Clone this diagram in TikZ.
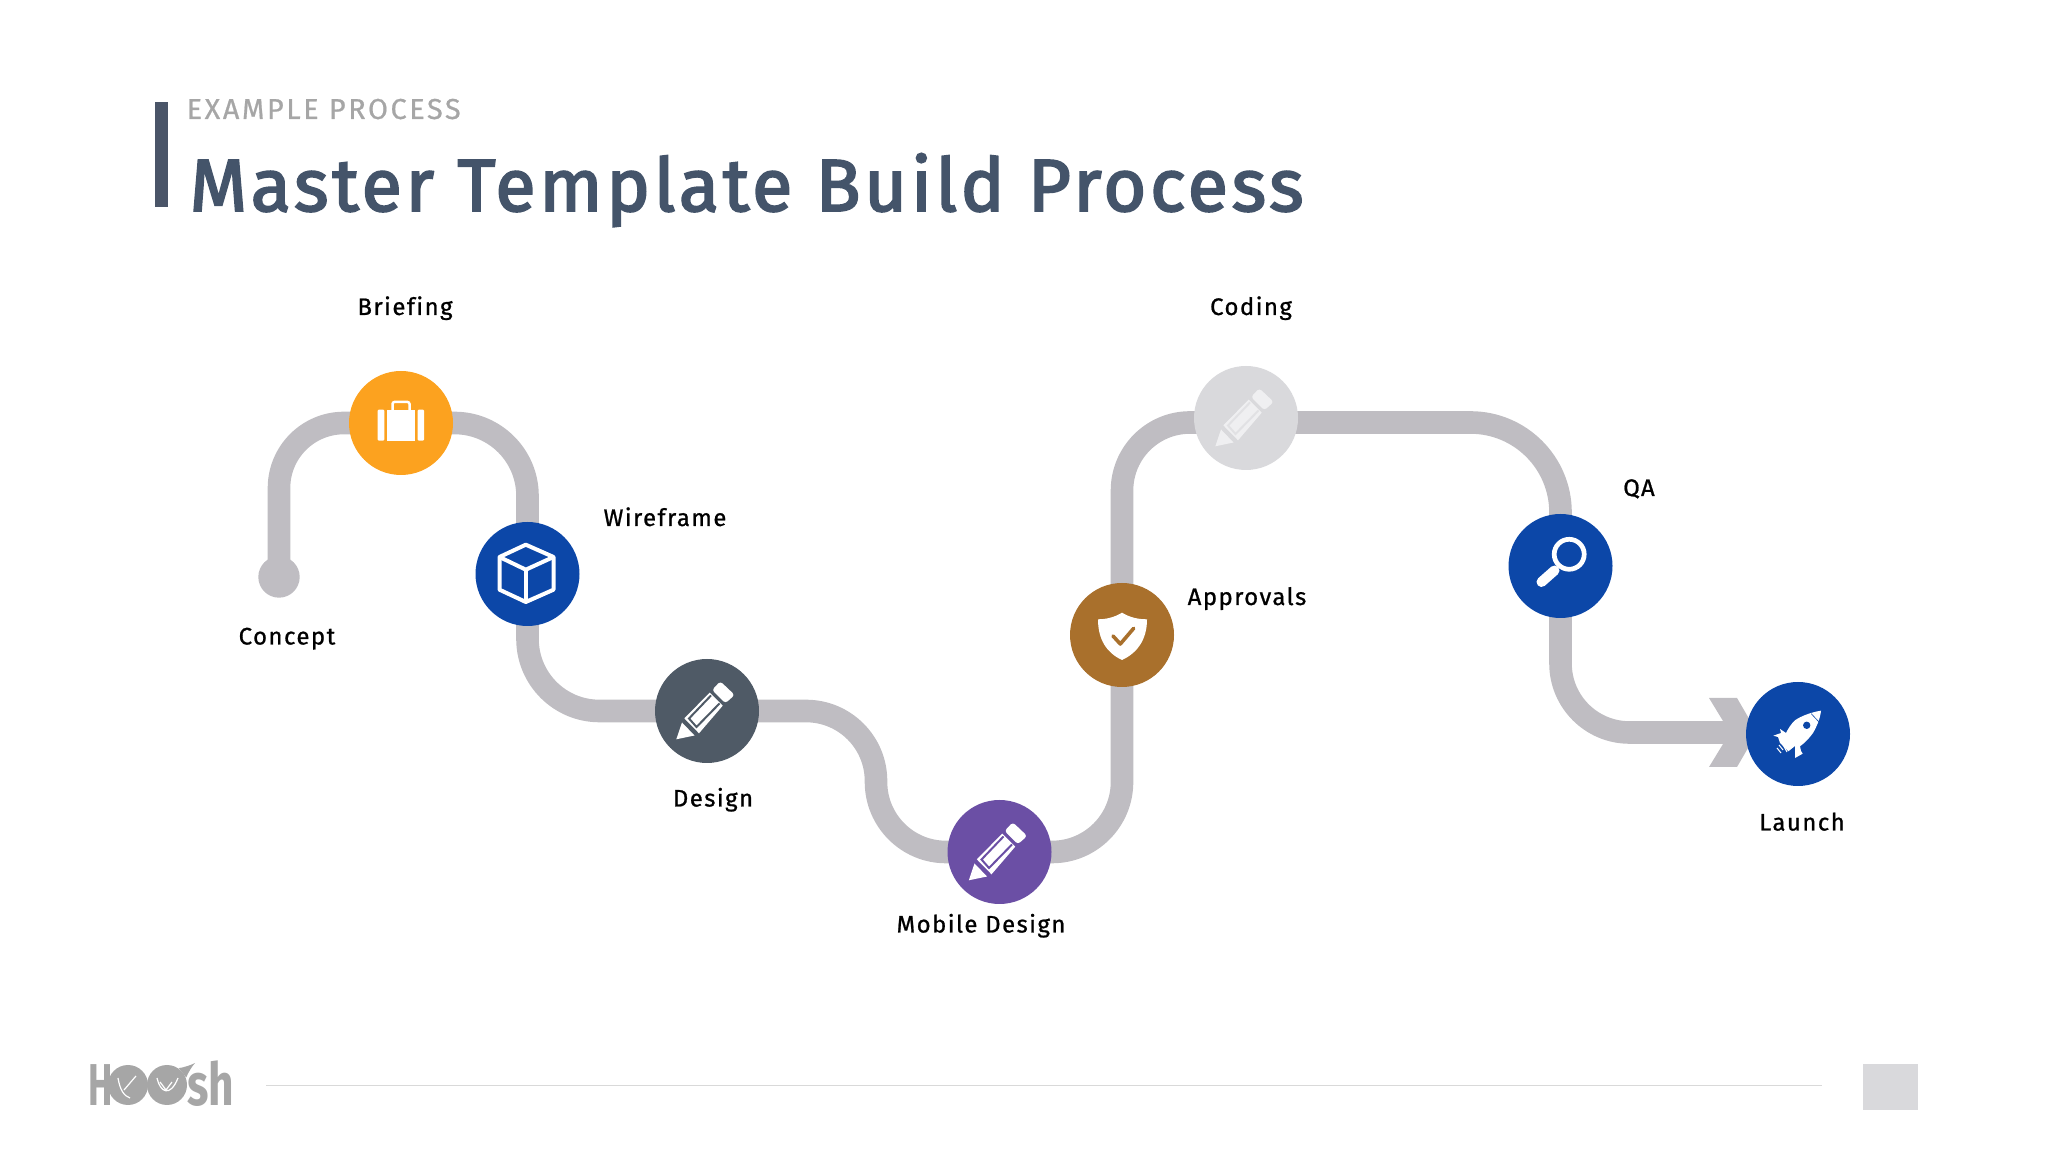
\documentclass[tikz,border=0pt]{standalone}
\usepackage{fontspec}
\usepackage{tikz}
\usetikzlibrary{backgrounds}

\setmainfont{Fira Sans}
\newfontfamily\titlefont[LetterSpace=5.1,FakeBold=2.6]{Fira Sans}
\newfontfamily\labelfont[LetterSpace=6.2,FakeBold=0.9,Ligatures=NoCommon]{Fira Sans}
\newfontfamily\subfont[LetterSpace=9,FakeBold=0.7]{Fira Sans}

\definecolor{roadcol}{HTML}{BFBDC2}
\definecolor{briefingcol}{HTML}{FCA21F}
\definecolor{bluecol}{HTML}{0C47A8}
\definecolor{designcol}{HTML}{4F5A66}
\definecolor{mobilecol}{HTML}{6B4FA5}
\definecolor{approvalcol}{HTML}{A9702C}
\definecolor{codingcol}{HTML}{D9D9DC}
\definecolor{titlecol}{HTML}{44546A}
\definecolor{barcol}{HTML}{4A5568}
\definecolor{subcol}{HTML}{A6A6A6}

\tikzset{
	road/.style={draw=roadcol, line width=2.26mm},
	stepdot/.style={circle, minimum size=10.4mm, inner sep=0pt},
	steplabel/.style={anchor=base, inner sep=0pt, text=black, font=\labelfont\fontsize{6.8}{8}\selectfont},
	logotext/.style={anchor=base, inner sep=0pt, text=subcol, font=\bfseries\fontsize{16.8}{18}\selectfont},
	pics/pencilicon/.style={code={
		\fill[white] (-30.7,28.3) -- (-25,11.5) -- (-12.5,24.5) -- cycle;
		\fill[white] (-22.7,7.3) -- (2.7,-18.3) -- (15.7,-5.3) -- (-8,22.3) -- cycle;
		\draw[#1, line width=.2mm] (4,-15.5) -- (-18,7.5) -- (-10.5,16) -- (12.5,-7.5);
		\fill[white, rounded corners=.3mm] (5,-21) -- (13.3,-29.7) -- (27.7,-16) -- (18.3,-7.7) -- cycle;
	}}
}

\begin{document}
\begin{tikzpicture}[x=0.1mm, y=-0.1mm]
	
	\useasboundingbox (0,0) rectangle (2048,1152);
	
	% heading
	\fill[barcol] (155,102) rectangle (168,207);
	\node[anchor=base west, inner sep=0pt, text=subcol, font=\subfont\fontsize{8.2}{10}\selectfont] (subtitle) at (186,119) {EXAMPLE PROCESS};
	\node[anchor=base west, inner sep=0pt, text=titlecol, font=\titlefont\fontsize{21}{24}\selectfont] (title) at (189,211) {Master Template Build Process};
	
	% steps
	\node[circle, minimum size=4.14mm, inner sep=0pt, fill=roadcol] (concept) at (279,577) {};
	\node[stepdot, fill=briefingcol] (briefing) at (401,423) {};
	\node[stepdot, fill=bluecol] (wireframe) at (527.5,574) {};
	\node[stepdot, fill=designcol] (design) at (707,711) {};
	\node[stepdot, fill=mobilecol] (mobile) at (999.5,852) {};
	\node[stepdot, fill=approvalcol] (approvals) at (1122,635) {};
	\node[stepdot, fill=codingcol] (coding) at (1246,418) {};
	\node[stepdot, fill=bluecol] (qa) at (1560.5,566) {};
	\node[stepdot, fill=bluecol] (launch) at (1798,734) {};
	
	\coordinate (bend) at (876,852);
	\coordinate (codingin) at (1246,422.5);
	\coordinate (launchin) at (1730,732.5);
	
	\begin{scope}[on background layer]
		\draw[road, rounded corners=6.5mm] (concept.center) |- (briefing.center);
		\draw[road, rounded corners=7.3mm] (briefing.center) -| (wireframe.center);
		\draw[road, rounded corners=7.2mm] (wireframe.center) |- (design.center);
		\draw[road, rounded corners=7mm] (design.center) -| (bend) -- (mobile.center);
		\draw[road, rounded corners=7mm] (mobile.center) -| (approvals.center);
		\draw[road, rounded corners=6.8mm] (approvals.center) |- (codingin);
		\draw[road, rounded corners=9mm] (codingin) -| (qa.center);
		\draw[road, rounded corners=6.9mm] (qa.center) |- (launchin);
		\fill[roadcol] (1709,698) -- (1737,698) -- (1757,732.5) -- (1737,767) -- (1709,767) -- (1730,732.5) -- cycle;
	\end{scope}
	
	% step labels
	\node[steplabel] (lblconcept) at (287,644.5) {Concept};
	\node[steplabel] (lblbriefing) at (405,315) {Briefing};
	\node[steplabel] (lblwireframe) at (665,526) {Wireframe};
	\node[steplabel] (lbldesign) at (713,806.5) {Design};
	\node[steplabel] (lblmobile) at (981,932.5) {Mobile Design};
	\node[steplabel] (lblapprovals) at (1247,605) {Approvals};
	\node[steplabel] (lblcoding) at (1251,315) {Coding};
	\node[steplabel] (lblqa) at (1639,496) {QA};
	\node[steplabel] (lbllaunch) at (1802,830.5) {Launch};
	
	% briefcase
	\begin{scope}[shift={(briefing)}]
		\fill[white, rounded corners=.1mm] (-23.3,-13.3) rectangle (-16.7,17.7);
		\fill[white] (-14,-13.3) rectangle (14,17.7);
		\fill[white, rounded corners=.1mm] (16.7,-13.3) rectangle (23,17.7);
		\draw[white, line width=.25mm, rounded corners=.2mm] (-8.5,-13) -- (-8.5,-21) -- (8.5,-21) -- (8.5,-13);
	\end{scope}
	
	% cube
	\begin{scope}[shift={(wireframe)}, white, line width=.4mm, line join=round]
		\draw (-1.7,-29.3) -- (26,-17) -- (26,15.7) -- (-1.7,28) -- (-28,15.7) -- (-28,-17) -- cycle;
		\draw (-28,-17) -- (-1.7,-4.3) -- (26,-17);
		\draw (-1.7,-4.3) -- (-1.7,28);
	\end{scope}
	
	% pencils
	\pic at (design) {pencilicon=designcol};
	\pic at (mobile) {pencilicon=mobilecol};
	\pic[opacity=.6] at (coding) {pencilicon=codingcol};
	
	% shield
	\begin{scope}[shift={(approvals)}]
		\fill[white] (0,-22.3) .. controls (8,-17.5) and (16,-15.7) .. (25,-15.7) .. controls (25,5) and (15,18) .. (0,25) .. controls (-15,18) and (-24,5) .. (-24,-15.7) .. controls (-16,-15.7) and (-8,-17.5) .. cycle;
		\draw[approvalcol, line width=.36mm, line cap=round, line join=round] (-9,1) -- (-1.7,9) -- (11.7,-6.7);
	\end{scope}
	
	% magnifier
	\begin{scope}[shift={(qa)}]
		\draw[white, line width=.47mm] (8.7,-11.7) circle (15);
		\draw[white, line width=1mm, line cap=round] (-19,16) -- (-6,4.5);
	\end{scope}
	
	% rocket
	\begin{scope}[shift={(launch)}]
		\fill[white] (23,-23.3) .. controls (14,-22) and (3,-18) .. (-3,-13.7) .. controls (-7,-10) and (-10,-5) .. (-12,-1) -- (-18,-5) -- (-17,-1) -- (-24.7,1.7) -- (-20,3) -- (-18,9) -- (-9.7,17.3) -- (-3,12) -- (-3,24) -- (4.7,19.7) -- (3,17) -- (2,12.3) .. controls (8,8) and (12,3) .. (15,-1) .. controls (19,-8) and (22,-15) .. cycle;
		\fill[bluecol] (8.7,-8.7) circle (3.7);
		\draw[bluecol, line width=.06mm] (13,-20.5) -- (21,-12);
		\draw[white, line width=.1mm] (-19,11) -- (-15,16) (-16,9) -- (-11,18) (-21,14) -- (-17,19);
	\end{scope}
	
	% footer
	\draw[draw=black!15, line width=.1mm] (266,1086) -- (1822,1086);
	\fill[codingcol] (1863,1064) rectangle (1918,1110);
	
	% logo
	\node[logotext] (logoh) at (100.5,1105) {\scalebox{.62}[1]{H}};
	\node[logotext] (logosh) at (211,1105) {\scalebox{.75}[1]{sh}};
	\node[circle, minimum size=4mm, inner sep=0pt, fill=subcol] (logoa) at (128,1085) {};
	\node[circle, minimum size=4mm, inner sep=0pt, fill=subcol] (logob) at (167,1085) {};
	\draw[white, line width=.12mm] (118,1078) .. controls (120,1090) and (124,1096) .. (130,1098) (136,1076) -- (124,1090) (157,1078) .. controls (160,1092) and (170,1098) .. (178,1078) (160,1082) -- (166,1090) -- (172,1082);
	\draw[subcol, line width=.2mm, -latex] (logob) -- (195,1063);
	
\end{tikzpicture}
\end{document}
